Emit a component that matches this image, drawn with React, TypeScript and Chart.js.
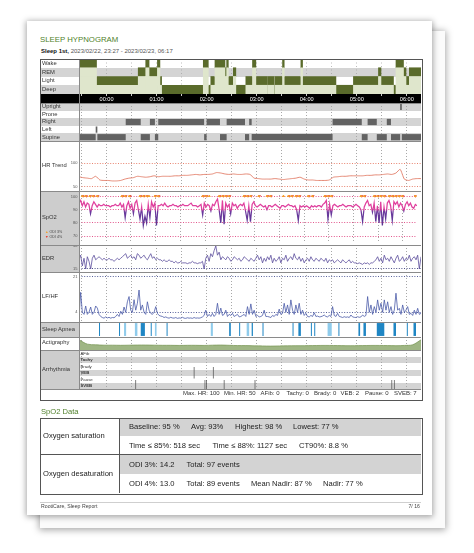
import React, { useEffect, useRef } from "react";
import { Chart, registerables } from "chart.js";
Chart.register(...registerables);

const FONT = '"Liberation Sans", Arial, Helvetica, sans-serif';

// ---------- time axis (minutes since 23:27) ----------
const TOTAL_MIN = 410; // 23:27 -> 06:17
const gridMinutes = [3, 33, 63, 93, 123, 153, 183, 213, 243, 273, 303, 333, 363, 393];
const hourMinutes = [33, 93, 153, 213, 273, 333, 393];
const hourLabels = ["00:00", "01:00", "02:00", "03:00", "04:00", "05:00", "06:00"];

// ---------- hypnogram ----------
const stageRows = ["Wake", "REM", "Light", "Deep"];
const stageStarts = [0, 21, 71, 80, 84, 94, 97, 99, 149, 155, 158, 163, 175, 177, 179, 185, 188, 200, 208, 212, 226, 227, 234, 235, 244, 246, 266, 268, 308, 329, 359, 362, 377, 380, 389, 392, 396];
const stageValues = ["Wake", "Light", "REM", "Wake", "REM", "Wake", "Light", "Deep", "Wake", "Deep", "Light", "Wake", "REM", "Wake", "Light", "REM", "Deep", "Light", "Wake", "Light", "Deep", "Light", "Deep", "Light", "Wake", "Light", "Wake", "Light", "Deep", "Light", "REM", "Light", "Deep", "Wake", "REM", "Light", "REM"];

// ---------- body position ----------
const positionRows = ["Upright", "Prone", "Right", "Left", "Supine"];
const posStarts = [0, 20, 22, 56, 74, 85, 91, 95, 150, 153, 169, 177, 199, 204, 207, 304, 339, 346, 357, 369, 374, 385, 387];
const posValues = ["Supine", "Left", "Supine", "Right", "Supine", "Right", "Supine", "Right", "Supine", "Right", "Supine", "Right", "Supine", "Right", "Supine", "Right", "Supine", "Right", "Supine", "Right", "Supine", "Upright", "Supine"];

// ---------- HR trend (every 5 min) ----------
const hrTrend = [71, 69, 68, 67, 72, 64, 63, 63, 62, 62, 63, 66, 68, 69, 72, 71, 70, 71, 73, 71, 72, 72, 72, 73, 73, 74, 74, 75, 76, 75, 76, 76, 77, 80, 79, 77, 76, 77, 76, 76, 77, 76, 68, 67, 66, 66, 66, 67, 66, 65, 66, 67, 68, 70, 66, 64, 64, 63, 63, 63, 64, 70, 71, 72, 72, 73, 73, 73, 73, 74, 74, 75, 75, 76, 77, 76, 79, 87, 66, 63, 66, 67, 67];
const hrTicks = [50, 100];

// ---------- SpO2 (every 2 min) ----------
const spo2 = [95, 97, 93, 96, 92, 95, 94, 87, 93, 96, 94, 92, 94,
  93, 93, 94, 93, 93, 93, 92, 93, 93, 94, 93, 93,
  95, 92, 94, 84, 93, 96, 91, 94, 87, 95, 97, 90, 83, 92, 78, 85, 80, 94, 84, 96, 92, 95, 78, 93,
  93, 94, 93, 95, 93, 92, 93, 93, 94, 93, 93, 92, 93, 93, 94, 93, 93, 93, 94, 95, 93, 93, 93, 92, 93, 94,
  86, 95, 92, 94, 93, 89, 94, 93, 96, 98, 90, 80, 97, 79, 95, 92, 94, 87, 95, 93, 94, 91, 93, 94, 93, 95, 89, 82, 93, 81, 94, 96,
  93, 92, 93, 94, 93, 92, 93, 90, 93, 93, 92, 93, 94, 93, 92, 91, 93, 93, 92, 93, 94, 93, 93, 92, 93,
  90, 82, 93, 92, 93,
  92, 93, 92, 91, 93, 92, 93, 92, 93, 93, 92, 94, 95,
  97, 83, 94, 86, 93, 94,
  93, 92, 93, 93, 94, 93, 92, 93, 93, 93, 92, 93, 94, 93, 92, 90,
  81, 92, 95, 97, 93,
  94, 88, 95, 81, 93, 80, 96, 78, 92, 83, 95, 97, 93, 82, 96, 94,
  96, 92, 95, 93, 89, 94, 96, 93, 95, 92, 91, 94, 93];
const spo2Ticks = [70, 80, 90, 100];
const odi3Events = [4, 8, 13, 17, 22, 52, 56, 61, 74, 78, 82, 85, 92, 96, 150, 154, 158, 170, 174, 178, 182, 200, 204, 208, 218, 228, 232, 248, 254, 258, 263, 267, 278, 283, 298, 302, 306, 342, 346, 358, 362, 366, 370, 376, 380, 384, 388, 392, 408];
const odi4Events = [5, 9, 14, 18, 23, 53, 57, 62, 75, 79, 83, 93, 97, 151, 155, 171, 175, 179, 183, 201, 205, 209, 219, 229, 233, 255, 259, 264, 268, 279, 284, 299, 303, 307, 343, 347, 359, 363, 367, 371, 377, 381, 385, 389, 393, 408];

// ---------- EDR (every 2 min) ----------
const edr = [21, 24, 17, 22, 15, 23, 20, 15, 22, 24, 21, 22, 23,
  22, 21, 22, 21, 21, 22, 21, 21, 20, 21, 22, 21,
  22, 23, 24, 25, 22, 23,
  24, 22, 23, 21, 25, 24, 22, 23, 24, 22, 21, 23, 25, 22, 23, 21, 22, 21,
  21, 20, 21, 20, 20, 21, 20, 20, 19, 20, 19, 19, 20, 19, 19, 19, 18.5, 19, 19, 20, 19, 19, 18.5, 19, 19, 20,
  15, 22, 24, 20, 25, 23, 27, 30, 24, 26, 21, 23,
  22, 21, 23, 22, 20, 21, 23, 22, 21, 22, 20, 21, 23, 22, 21, 20, 22, 21, 20, 22,
  24, 21, 23, 19, 22, 20, 23, 21, 24, 19, 22, 20, 21, 23, 19, 22, 21, 24, 20, 22, 23, 21, 25, 22, 21, 23, 20, 22, 19, 21, 22, 20, 23, 21, 20, 22, 21, 20, 22,
  21, 20, 22, 19, 21, 20, 21, 19, 20, 21, 20, 19, 21, 20, 19, 20, 21, 19, 20, 19,
  19, 18.5, 19, 18.5, 18, 19, 18.5, 19, 18, 19, 19, 20,
  21, 23, 20, 22, 19, 24, 21, 22, 20, 23, 21, 19, 22, 24, 20, 21, 23, 20, 22, 21, 24, 20, 22, 23, 21, 24,
  15, 23];
const edrTicks = [15, 30];

// ---------- LF/HF (every 2 min) ----------
const lfhf = [1.5, 13.5, 4, 3, 7, 3, 4, 6.5, 3, 4, 7, 6, 3, 2, 1.5, 1.2, 1.8, 1.3, 1.6, 1.2, 1.5, 1.4, 2, 3,
  2, 4.5, 3, 6.5, 4, 9, 11.5, 5, 4, 10, 5, 8.3, 14.6, 5, 7.5, 4, 3, 9, 5, 3.5, 3, 4, 6.7, 3.5, 2.5,
  2.2, 2, 1.5, 1.8, 1.4, 1.2, 1.6, 1.3, 1.2, 1.5, 1.1, 1.3, 1.2, 1.6, 1.2, 1.1, 1.4, 1.2, 1.3, 1.1, 1.5, 1.2, 1.3, 1.2, 1.4, 1.8,
  2.5, 5, 2, 3, 2, 3.5, 2, 3, 8.3, 3, 6, 2.5, 3, 5, 2, 3, 2.5, 3.5, 2, 2.5, 3, 1.8, 2, 2.5, 3, 2, 6.7, 3, 8, 3, 5, 2, 2.5, 1.8, 2, 2.5, 5, 2, 2, 1.8, 1.5,
  2.5, 2, 3, 2.5, 5.5, 3, 3.5, 8.3, 4, 7.5, 3, 9.9, 5, 3, 7.5, 4, 8.3, 3, 5, 2.5, 3.5, 2, 1.8, 2.5, 2, 3.8, 2, 2.2, 1.8, 1.9, 2.2, 2.7, 2, 1.8, 2.5, 2, 6.7, 2.5, 2, 3.5,
  2, 1.8, 1.5, 1.9, 1.6, 1.8, 1.5, 2.7, 1.8, 1.6, 1.5, 1.9, 1.6, 1.8, 2.7, 2, 2.5,
  11.5, 4, 7.5, 3, 6.7, 4, 9.9, 5, 8.3, 4, 9.9, 5, 9, 4, 6.7, 3, 5, 13.1, 5, 5.9, 3, 7.5, 4, 5, 6.7, 3, 3.5, 2.5, 5, 3, 5.9, 3, 3.5];
const lfhfTicks = [4, 21];

// ---------- sleep apnea events ----------
const apneaStart = [24, 48, 54, 67, 74, 86, 91, 105, 158, 180, 192, 201, 207, 220, 256, 263, 278, 282, 298, 311, 335, 341, 357, 377, 393, 401];
const apneaEnd = [25.2, 49.2, 56.5, 70, 79, 87.2, 93, 106.2, 160.5, 182, 193.2, 204, 208.5, 221.2, 257.2, 266, 279.2, 283.2, 303, 312.2, 337, 344, 366, 380, 394.2, 404];
const apneaKind = ["A", "A", "H", "H", "A", "A", "H", "A", "H", "A", "A", "H", "A", "A", "A", "A", "A", "A", "H", "A", "A", "A", "A", "A", "A", "A"];

// ---------- actigraphy (every 10 min) ----------
const actigraphy = [78, 45, 40, 37, 37, 36, 37, 38, 38, 37, 36, 36, 35, 36, 36, 35, 37, 38, 36, 34, 34, 32, 31, 30, 31, 32, 33, 33, 34, 35, 35, 34, 33, 33, 34, 35, 35, 34, 33, 35, 40, 78];

// ---------- arrhythmia ----------
const arrRows = ["AFib", "Tachy", "Brady", "VEB", "Pause", "SVEB"];
const vebMinutes = [138, 161];
const svebMinutes = [68, 151, 153, 174, 211, 375, 378];

// ---------- colors ----------
const GRID = "#a8a8a8";
const ROW_GRAY = "#d4d4d4";
const LABEL_GRAY = "#cdcdcd";
const DARK_GREEN = "#5a6b2b";
const LIGHT_GREEN = "#dfe6cc";

const series = (vals: number[]) => vals.map((v, i) => ({ x: (i * TOTAL_MIN) / (vals.length - 1), y: v }));

const zeroPad = (s: any) => {
  s.paddingLeft = 0; s.paddingRight = 0; s.paddingTop = 0; s.paddingBottom = 0;
};

function gridX(extra: any = {}) {
  return {
    type: "linear", min: 0, max: TOTAL_MIN, display: true, position: "bottom",
    ticks: { display: false },
    grid: { color: GRID, lineWidth: 1, drawTicks: false },
    border: { display: false, dash: [1, 2] },
    afterBuildTicks: (s: any) => { s.ticks = gridMinutes.map((v) => ({ value: v })); },
    afterFit: (s: any) => { s.height = 0; zeroPad(s); },
    ...extra,
  };
}

function tickY(min: number, max: number, ticks: number[], color: string) {
  return {
    type: "linear", min, max, position: "left", display: true,
    afterBuildTicks: (s: any) => { s.ticks = ticks.map((v) => ({ value: v })); },
    afterFit: (s: any) => { s.width = 13; zeroPad(s); },
    ticks: { font: { size: 4, family: FONT }, color: "#555", padding: 1.5 },
    grid: { color, lineWidth: 1, drawTicks: false },
    border: { display: false, dash: [1, 1.6] },
  };
}

const base = {
  responsive: false,
  maintainAspectRatio: false,
  animation: false,
  events: [],
  layout: { padding: 0 },
  plugins: { legend: { display: false }, tooltip: { enabled: false } },
};

function segmentsFrom(starts: number[], values: string[]) {
  return starts.map((s, i) => ({ start: s, end: i + 1 < starts.length ? starts[i + 1] : TOTAL_MIN, value: values[i] }));
}

function hypnoConfig(): any {
  const segs = segmentsFrom(stageStarts, stageValues);
  const dark = segs.map((g) => ({ x: [g.start, g.end], y: g.value }));
  const light: any[] = [];
  segs.forEach((g) => {
    const k = stageRows.indexOf(g.value);
    stageRows.slice(k + 1).forEach((r) => light.push({ x: [g.start, g.end], y: r }));
  });
  return {
    type: "bar",
    data: {
      labels: stageRows,
      datasets: [
        { data: light, backgroundColor: LIGHT_GREEN, barPercentage: 1, categoryPercentage: 1, grouped: false, borderWidth: 0 },
        { data: dark, backgroundColor: DARK_GREEN, barPercentage: 1, categoryPercentage: 1, grouped: false, borderWidth: 0 },
      ],
    },
    options: {
      ...base,
      indexAxis: "y",
      scales: {
        y: { type: "category", display: false, offset: true },
        x: {
          type: "linear", min: 0, max: TOTAL_MIN, position: "bottom",
          afterBuildTicks: (s: any) => { s.ticks = gridMinutes.map((v) => ({ value: v })); },
          ticks: {
            color: "#ffffff", font: { size: 5.6, family: FONT }, padding: 0.5, maxRotation: 0, autoSkip: false,
            callback: (v: any) => { const i = hourMinutes.indexOf(v); return i >= 0 ? hourLabels[i] : ""; },
          },
          grid: { color: "rgba(160,160,160,0.7)", drawTicks: true, tickLength: 2, tickColor: "#ffffff", tickWidth: 0.8 },
          border: { display: false, dash: [1, 2.5] },
          afterFit: (s: any) => { s.height = 9; zeroPad(s); },
        },
      },
    },
  };
}

function positionConfig(): any {
  const segs = segmentsFrom(posStarts, posValues);
  return {
    type: "bar",
    data: {
      labels: positionRows,
      datasets: [
        { data: segs.map((g) => ({ x: [g.start, g.end], y: g.value })), backgroundColor: "#626262", barPercentage: 0.82, categoryPercentage: 1, grouped: false, borderWidth: 0 },
      ],
    },
    options: { ...base, indexAxis: "y", scales: { y: { type: "category", display: false, offset: true }, x: gridX() } },
  };
}

function hrConfig(): any {
  return {
    type: "line",
    data: { datasets: [{ data: series(hrTrend), borderColor: "#e27d68", borderWidth: 0.9, pointRadius: 0, tension: 0.2 }] },
    options: { ...base, scales: { x: gridX(), y: tickY(40.3, 148, hrTicks, "#e8836f") } },
  };
}

function spo2Config(): any {
  return {
    type: "line",
    data: {
      datasets: [
        {
          data: series(spo2), borderWidth: 1.25, pointRadius: 0, tension: 0,
          borderColor: (ctx: any) => {
            const ch = ctx.chart;
            const area = ch.chartArea;
            if (!area) return "#e0449a";
            const y90 = ch.scales.y.getPixelForValue(90.5);
            const t = Math.min(Math.max((y90 - area.top) / (area.bottom - area.top), 0), 0.95);
            const g = ch.ctx.createLinearGradient(0, area.top, 0, area.bottom);
            g.addColorStop(0, "#e8409c");
            g.addColorStop(t, "#dc3f9e");
            g.addColorStop(Math.min(t + 0.06, 1), "#6a3a9e");
            g.addColorStop(1, "#4b2d86");
            return g;
          },
        },
        { type: "scatter", data: odi3Events.map((m) => ({ x: m, y: 100.3 })), pointStyle: "triangle", pointRadius: 1.8, backgroundColor: "#f4a12a", borderWidth: 0 },
        { type: "scatter", data: odi4Events.map((m) => ({ x: m, y: 100.3 })), pointStyle: "triangle", rotation: 180, pointRadius: 1.8, backgroundColor: "#e8392a", borderWidth: 0 },
      ],
    },
    options: { ...base, scales: { x: gridX(), y: tickY(66.3, 101.1, spo2Ticks, "#e2568c") } },
  };
}

function edrConfig(): any {
  return {
    type: "line",
    data: { datasets: [{ data: series(edr), borderColor: "#5b4c9c", borderWidth: 0.8, pointRadius: 0, tension: 0 }] },
    options: { ...base, scales: { x: gridX(), y: tickY(13.04, 30.65, edrTicks, "#4c4f86") } },
  };
}

function lfhfConfig(): any {
  return {
    type: "line",
    data: { datasets: [{ data: series(lfhf), borderColor: "#4a5aa8", borderWidth: 0.8, pointRadius: 0, tension: 0 }] },
    options: { ...base, scales: { x: gridX(), y: tickY(-0.63, 23.2, lfhfTicks, "#56609a") } },
  };
}

function apneaConfig(): any {
  const ev = apneaStart.map((s, i) => ({ x: [s, apneaEnd[i]], y: "Apnea", k: apneaKind[i] }));
  return {
    type: "bar",
    data: {
      labels: ["Apnea"],
      datasets: [
        { data: ev.filter((e) => e.k === "H").map((e) => ({ x: e.x, y: e.y })), backgroundColor: "#8fcbeb", barPercentage: 0.86, categoryPercentage: 1, grouped: false, borderWidth: 0 },
        { data: ev.filter((e) => e.k === "A").map((e) => ({ x: e.x, y: e.y })), backgroundColor: "#1f86c4", barPercentage: 0.86, categoryPercentage: 1, grouped: false, borderWidth: 0 },
      ],
    },
    options: { ...base, indexAxis: "y", scales: { y: { type: "category", display: false, offset: true }, x: { type: "linear", min: 0, max: TOTAL_MIN, display: false } } },
  };
}

function actiConfig(): any {
  return {
    type: "line",
    data: { datasets: [{ data: series(actigraphy), borderColor: "#7d9a5c", backgroundColor: "#9fb684", fill: "origin", borderWidth: 0.8, pointRadius: 0, tension: 0.3 }] },
    options: { ...base, scales: { x: gridX(), y: { type: "linear", min: 0, max: 100, display: false } } },
  };
}

function arrConfig(): any {
  return {
    type: "bar",
    data: {
      labels: arrRows,
      datasets: [
        { data: vebMinutes.map((m) => ({ x: [m - 0.45, m + 0.45], y: "VEB" })), backgroundColor: "#555", barPercentage: 0.9, categoryPercentage: 1, grouped: false, borderWidth: 0 },
        { data: svebMinutes.map((m) => ({ x: [m - 0.45, m + 0.45], y: "SVEB" })), backgroundColor: "#555", barPercentage: 0.9, categoryPercentage: 1, grouped: false, borderWidth: 0 },
      ],
    },
    options: { ...base, indexAxis: "y", scales: { y: { type: "category", display: false, offset: true }, x: gridX() } },
  };
}

function ChartCanvas({ left, top, width, height, make }: { left: number; top: number; width: number; height: number; make: () => any }) {
  const ref = useRef<HTMLCanvasElement>(null);
  useEffect(() => {
    const chart = new Chart(ref.current as HTMLCanvasElement, make());
    return () => chart.destroy();
  }, []);
  return <canvas ref={ref} width={width} height={height} style={{ position: "absolute", left, top, width, height, display: "block" }} />;
}

function Txt({ x, y, size, children, color = "#222", weight = 400, right = false }: any) {
  const lh = size * 1.25;
  const st: any = { position: "absolute", top: y - lh / 2, fontSize: size, lineHeight: `${lh}px`, color, fontWeight: weight, whiteSpace: "nowrap", fontFamily: FONT };
  if (right) st.right = 474 - x; else st.left = x;
  return <div style={st}>{children}</div>;
}

function Rect({ x, y, w, h, bg }: any) {
  return <div style={{ position: "absolute", left: x, top: y, width: w, height: h, background: bg }} />;
}

const L = 40, R = 421, C = 79;

export default function App() {
  const hypRowH = 35 / 4;
  const posRowH = 38 / 5;
  const arrRowH = 39 / 6;
  return (
    <div style={{ position: "absolute", left: 0, top: 0, width: 474, height: 553, background: "#ffffff", overflow: "hidden", fontFamily: FONT }}>
      {/* pages */}
      <div style={{ position: "absolute", left: 40, top: 31, width: 405, height: 497, background: "#fbfbfb", boxShadow: "0 1px 7px 1px rgba(0,0,0,0.35)" }} />
      <div style={{ position: "absolute", left: 27, top: 21, width: 405, height: 494, background: "#ffffff", boxShadow: "0 1px 6px 1px rgba(0,0,0,0.35)" }} />

      <Txt x={40} y={40} size={7.8} color="#4f7f2a">SLEEP HYPNOGRAM</Txt>
      <Txt x={41} y={52} size={6} color="#555"><b style={{ color: "#111" }}>Sleep 1st,</b> 2023/02/22, 23:27 - 2023/02/23, 06:17</Txt>

      {/* row backgrounds */}
      {stageRows.map((r, i) => (i % 2 === 1 ? <Rect key={r} x={L} y={59 + i * hypRowH} w={R - L} h={hypRowH} bg={ROW_GRAY} /> : null))}
      <Rect x={L} y={94} w={R - L} h={9} bg="#000" />
      {positionRows.map((r, i) => (i % 2 === 0 ? <Rect key={r} x={L} y={103 + i * posRowH} w={R - L} h={posRowH} bg={ROW_GRAY} /> : null))}
      <Rect x={L} y={191} w={C - L} h={54} bg={LABEL_GRAY} />
      <Rect x={L} y={245} w={C - L} h={27} bg={LABEL_GRAY} />
      <Rect x={L} y={322} w={C - L} h={15} bg={LABEL_GRAY} />
      <Rect x={L} y={350} w={C - L} h={39} bg={LABEL_GRAY} />
      {arrRows.map((r, i) => (i % 2 === 1 ? <Rect key={r} x={C} y={350 + i * arrRowH} w={R - C} h={arrRowH} bg={ROW_GRAY} /> : null))}

      {/* charts */}
      <ChartCanvas left={C} top={59} width={R - C} height={44} make={hypnoConfig} />
      <ChartCanvas left={C} top={103} width={R - C} height={38} make={positionConfig} />
      <ChartCanvas left={66} top={141} width={R - 66} height={50} make={hrConfig} />
      <ChartCanvas left={66} top={191} width={R - 66} height={54} make={spo2Config} />
      <ChartCanvas left={66} top={245} width={R - 66} height={27} make={edrConfig} />
      <ChartCanvas left={66} top={272} width={R - 66} height={50} make={lfhfConfig} />
      <ChartCanvas left={C} top={322} width={R - C} height={15} make={apneaConfig} />
      <ChartCanvas left={C} top={337} width={R - C} height={13} make={actiConfig} />
      <ChartCanvas left={C} top={350} width={R - C} height={39} make={arrConfig} />

      {/* separators */}
      {[103, 141, 191, 245, 272, 322, 337, 350, 389].map((y) => <Rect key={y} x={L} y={y - 0.5} w={R - L} h={1} bg="#8a8a8a" />)}
      <Rect x={C - 0.5} y={59} w={1} h={330} bg="#8a8a8a" />
      <div style={{ position: "absolute", left: L - 0.5, top: 58.5, width: R - L, height: 340, border: "1px solid #555" }} />

      {/* labels */}
      {stageRows.map((r, i) => <Txt key={r} x={42} y={59 + (i + 0.5) * hypRowH} size={5.8} color="#333">{r}</Txt>)}
      {positionRows.map((r, i) => <Txt key={r} x={42} y={103 + (i + 0.5) * posRowH} size={5.8} color="#333">{r}</Txt>)}
      <Txt x={42} y={165.5} size={5.8} color="#333">HR Trend</Txt>
      <Txt x={42} y={218} size={5.8} color="#333">SpO2</Txt>
      <Txt x={45} y={232} size={3.6} color="#444"><span style={{ color: "#f4a12a" }}>▲</span> ODI 3%</Txt>
      <Txt x={45} y={237.5} size={3.6} color="#444"><span style={{ color: "#e8392a" }}>▼</span> ODI 4%</Txt>
      <Txt x={42} y={258.5} size={5.8} color="#333">EDR</Txt>
      <Txt x={42} y={297} size={5.8} color="#333">LF/HF</Txt>
      <Txt x={42} y={330} size={5.8} color="#333">Sleep Apnea</Txt>
      <Txt x={42} y={343} size={5.8} color="#333">Actigraphy</Txt>
      <Txt x={42} y={370} size={5.8} color="#333">Arrhythmia</Txt>
      {arrRows.map((r, i) => <Txt key={r} x={80.5} y={350 + (i + 0.5) * arrRowH} size={4.3} color="#333" weight={i % 2 === 1 ? 700 : 400}>{r}</Txt>)}

      {/* summary */}
      <Txt x={183} y={394} size={6} color="#333">Max. HR: 100</Txt>
      <Txt x={224} y={394} size={6} color="#333">Min. HR: 50</Txt>
      <Txt x={260.5} y={394} size={6} color="#333">AFib: 0</Txt>
      <Txt x={286.5} y={394} size={6} color="#333">Tachy: 0</Txt>
      <Txt x={314} y={394} size={6} color="#333">Brady: 0</Txt>
      <Txt x={340.5} y={394} size={6} color="#333">VEB: 2</Txt>
      <Txt x={365} y={394} size={6} color="#333">Pause: 0</Txt>
      <Txt x={394} y={394} size={6} color="#333">SVEB: 7</Txt>

      {/* SpO2 data table */}
      <Txt x={41} y={412} size={7.6} color="#4f7f2a">SpO2 Data</Txt>
      <Rect x={119.5} y={418.5} w={301} h={17.5} bg="#d3d3d3" />
      <Rect x={119.5} y={455} w={301} h={18.5} bg="#d3d3d3" />
      <div style={{ position: "absolute", left: L - 0.5, top: 417.5, width: R - L, height: 75, border: "1px solid #555" }} />
      <Rect x={L} y={454} w={R - L} h={1} bg="#555" />
      <Rect x={118.5} y={418} w={1} h={75} bg="#555" />
      <Txt x={43} y={436} size={7.6} color="#222">Oxygen saturation</Txt>
      <Txt x={43} y={474} size={7.6} color="#222">Oxygen desaturation</Txt>
      <Txt x={129} y={427} size={7.6} color="#222">Baseline: 95 %</Txt>
      <Txt x={191} y={427} size={7.6} color="#222">Avg: 93%</Txt>
      <Txt x={235} y={427} size={7.6} color="#222">Highest: 98 %</Txt>
      <Txt x={293} y={427} size={7.6} color="#222">Lowest: 77 %</Txt>
      <Txt x={129} y={446} size={7.6} color="#222">Time ≤ 85%: 518 sec</Txt>
      <Txt x={212.5} y={446} size={7.6} color="#222">Time ≤ 88%: 1127 sec</Txt>
      <Txt x={299} y={446} size={7.6} color="#222">CT90%: 8.8 %</Txt>
      <Txt x={129} y={465} size={7.6} color="#222">ODI 3%: 14.2</Txt>
      <Txt x={186.5} y={465} size={7.6} color="#222">Total: 97 events</Txt>
      <Txt x={129} y={483.5} size={7.6} color="#222">ODI 4%: 13.0</Txt>
      <Txt x={186.5} y={483.5} size={7.6} color="#222">Total: 89 events</Txt>
      <Txt x={251} y={483.5} size={7.6} color="#222">Mean Nadir: 87 %</Txt>
      <Txt x={323} y={483.5} size={7.6} color="#222">Nadir: 77 %</Txt>

      {/* footer */}
      <Rect x={L} y={501.5} w={R - L} h={0.8} bg="#cfcfcf" />
      <Txt x={41} y={506} size={5.2} color="#444">RootiCare, Sleep Report</Txt>
      <Txt x={420} y={506} size={5.2} color="#444" right>7/ 16</Txt>
    </div>
  );
}
